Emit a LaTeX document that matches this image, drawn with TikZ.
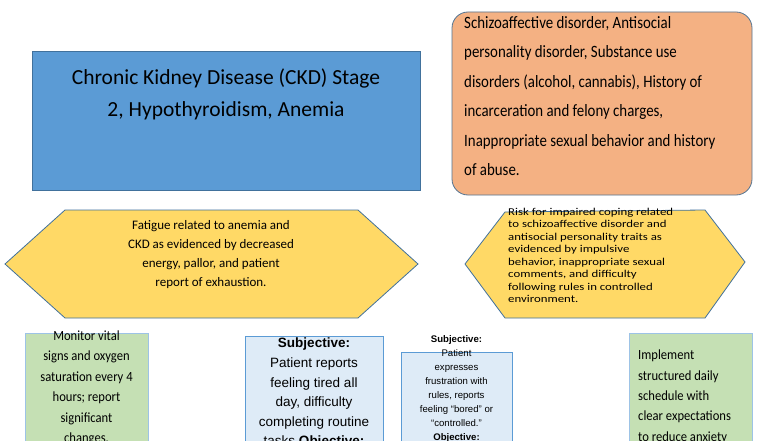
\documentclass[tikz,border=0pt]{standalone}
\usepackage{fontspec}
\setmainfont{Carlito}
\newfontfamily\arialf{Liberation Sans}
\definecolor{bblue}{HTML}{5B9BD5}
\definecolor{borange}{HTML}{F4B183}
\definecolor{byellow}{HTML}{FFD966}
\definecolor{bgreen}{HTML}{C5E0B4}
\definecolor{lblue}{HTML}{DEEBF7}
\definecolor{edge}{HTML}{41719C}
\begin{document}
\begin{tikzpicture}[x=1pt,y=-1pt,
  hex/.style={fill=byellow,draw=edge,line width=0.8pt},
  green/.style={fill=bgreen,draw=bblue!60,line width=0.6pt},
  lb/.style={fill=lblue,draw=bblue,line width=0.8pt}]
\useasboundingbox (0,0) rectangle (784,441);
\fill[white] (0,0) rectangle (784,441);
% top blue
\node[fill=bblue,draw=edge,line width=0.6pt,minimum width=388pt,minimum height=139pt,inner sep=0pt] (ckd) at (226,120.5) {};
\node[align=center,font=\fontsize{21.5}{32}\selectfont] (ckdt) at (226,94) {Chronic Kidney Disease (CKD) Stage\\2, Hypothyroidism, Anemia};
% top orange
\node[fill=borange,draw=edge!70!gray,line width=0.8pt,rounded corners=16pt,minimum width=300pt,minimum height=183pt,inner sep=0pt] (psy) at (602,103.5) {};
\node[anchor=north west,align=left,inner sep=0pt,font=\fontsize{17.3}{29.5}\selectfont\addfontfeature{FakeStretch=0.86}] (psyt) at (464,16) {Schizoaffective disorder, Antisocial\\personality disorder, Substance use\\disorders (alcohol, cannabis), History of\\incarceration and felony charges,\\Inappropriate sexual behavior and history\\of abuse.};
% hexagons
\draw[hex] (5,264) -- (65,210) -- (358,210) -- (418,264) -- (358,318) -- (65,318) -- cycle;
\node[align=center,font=\fontsize{13}{19}\selectfont] (fat) at (211,255) {Fatigue related to anemia and\\CKD as evidenced by decreased\\energy, pallor, and patient\\report of exhaustion.};
\draw[hex] (465,264) -- (505,212) -- (705,210) -- (745,262) -- (705,318) -- (505,318) -- cycle;
\node[align=left,anchor=north west,inner sep=0pt,font=\fontsize{10.5}{12.5}\selectfont\addfontfeature{FakeStretch=1.22}] (cop) at (508,208) {Risk for impaired coping related\\to schizoaffective disorder and\\antisocial personality traits as\\evidenced by impulsive\\behavior, inappropriate sexual\\comments, and difficulty\\following rules in controlled\\environment.};
% green left
\draw[green] (25,460) -- (25,333) -- (148,333) -- (148,460);
\node[align=center,font=\fontsize{14}{20.5}\selectfont\addfontfeature{FakeStretch=0.9}] (mon) at (86.5,388) {Monitor vital\\signs and oxygen\\saturation every 4\\hours; report\\significant\\changes.};
% blue box 1
\draw[lb] (245,460) -- (245,336) -- (383,336) -- (383,460);
\node[align=center,anchor=north,inner sep=0pt,font=\arialf\fontsize{13.5}{19.6}\selectfont] (sub1) at (314,338) {\textbf{Subjective:}\\Patient reports\\feeling tired all\\day, difficulty\\completing routine\\tasks.\textbf{Objective:}};
% blue box 2
\draw[lb] (401,460) -- (401,352) -- (512,352) -- (512,460);
\node[align=center,anchor=north,inner sep=0pt,font=\arialf\fontsize{9.6}{14}\selectfont] (sub2) at (456.5,335) {\textbf{Subjective:}\\Patient\\expresses\\frustration with\\rules, reports\\feeling “bored” or\\“controlled.”\\\textbf{Objective:}};
% green right
\draw[green] (629,460) -- (629,333) -- (752,333) -- (752,460);
\node[align=left,anchor=north west,inner sep=0pt,font=\fontsize{14}{20.3}\selectfont\addfontfeature{FakeStretch=0.9}] (imp) at (638,350) {Implement\\structured daily\\schedule with\\clear expectations\\to reduce anxiety};
\end{tikzpicture}
\end{document}
